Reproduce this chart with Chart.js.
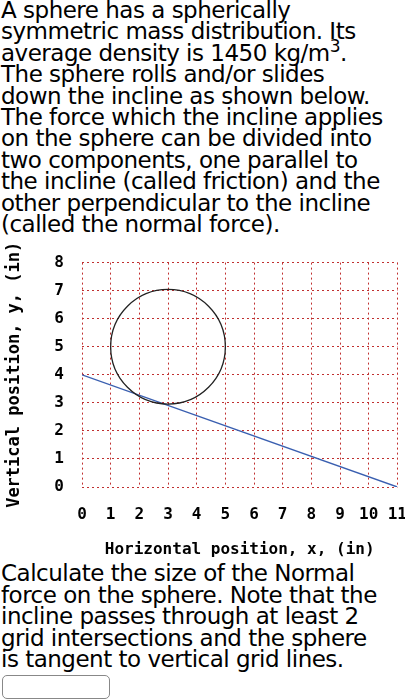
<!DOCTYPE html>
<html><head><meta charset="utf-8">
<script src="https://cdn.jsdelivr.net/npm/chart.js@4"></script>
<style>
body{margin:0;width:405px;height:700px;overflow:hidden;background:#fff;font-family:"DejaVu Sans",Verdana,sans-serif;color:#000}
.t{font-size:23px;line-height:21.4px;margin:0 0 0 1px;letter-spacing:-0.5px;white-space:nowrap}
#wrap{width:405px;height:328px;overflow:hidden;position:relative}
#box{margin:4px 0 0 2px;width:106px;height:22px;border:1px solid #888;border-radius:5px}
</style></head><body>
<div class="t">A sphere has a spherically<br>symmetric mass distribution. Its<br>average density is 1450 kg/m<sup style="font-size:17px;line-height:0">3</sup>.<br>The sphere rolls and/or slides<br>down the incline as shown below.<br>The force which the incline applies<br>on the sphere can be divided into<br>two components, one parallel to<br>the incline (called friction) and the<br>other perpendicular to the incline<br>(called the normal force).</div>
<div id="wrap"><canvas id="c" width="425" height="328"></canvas></div>
<div class="t">Calculate the size of the Normal<br>force on the sphere. Note that the<br>incline passes through at least 2<br>grid intersections and the sphere<br>is tangent to vertical grid lines.</div>
<div id="box"></div>
<script>
const xTicks=[0,1,2,3,4,5,6,7,8,9,10,11];
const yTicks=[0,1,2,3,4,5,6,7,8];
const inclineX=[0,11];
const inclineY=[4,0];
const circleCenter=[3,5];
const circleRadius=[2];
const mono='"DejaVu Sans Mono",monospace';
const circlePlugin={id:'circ',afterDatasetsDraw(ch){
 const c=ch.ctx,xs=ch.scales.x,ys=ch.scales.y;
 const cx=xs.getPixelForValue(circleCenter[0]),cy=ys.getPixelForValue(circleCenter[1]);
 const r=xs.getPixelForValue(circleCenter[0]+circleRadius[0])-cx;
 c.save();c.strokeStyle='#222';c.lineWidth=1.3;c.beginPath();c.arc(cx,cy,r,0,Math.PI*2);c.stroke();c.restore();}};
new Chart(document.getElementById('c'),{type:'scatter',
 data:{datasets:[{data:inclineX.map((x,i)=>({x,y:inclineY[i]})),showLine:true,borderColor:'#3a5fb0',borderWidth:1.4,pointRadius:0}]},
 options:{responsive:false,animation:false,layout:{padding:{top:17,right:15,left:0,bottom:0}},
 plugins:{legend:{display:false},tooltip:{enabled:false}},
 scales:{
  x:{min:0,max:11,afterFit(a){a.height=76;},afterBuildTicks(a){a.ticks=xTicks.map(v=>({value:v}));},
   grid:{color:'#c03030',lineWidth:1,drawTicks:false},border:{display:false,dash:[2,3]},
   ticks:{padding:18,font:{family:mono,size:16,weight:'bold'},color:'#000',maxRotation:0,autoSkip:false},
   title:{display:true,text:'Horizontal position, x, (in)',font:{family:mono,size:16,weight:'bold'},color:'#000',padding:{top:10}}},
  y:{min:0,max:8,afterFit(a){a.width=82;},afterBuildTicks(a){a.ticks=yTicks.map(v=>({value:v}));},
   grid:{color:'#c03030',lineWidth:1,drawTicks:false},border:{display:false,dash:[2,3]},
   ticks:{padding:18,font:{family:mono,size:16,weight:'bold'},color:'#000'},
   title:{display:true,text:'Vertical position, y, (in)',font:{family:mono,size:17,weight:'bold'},color:'#000',padding:{bottom:6}}}
 }},plugins:[circlePlugin]});
</script></body></html>
